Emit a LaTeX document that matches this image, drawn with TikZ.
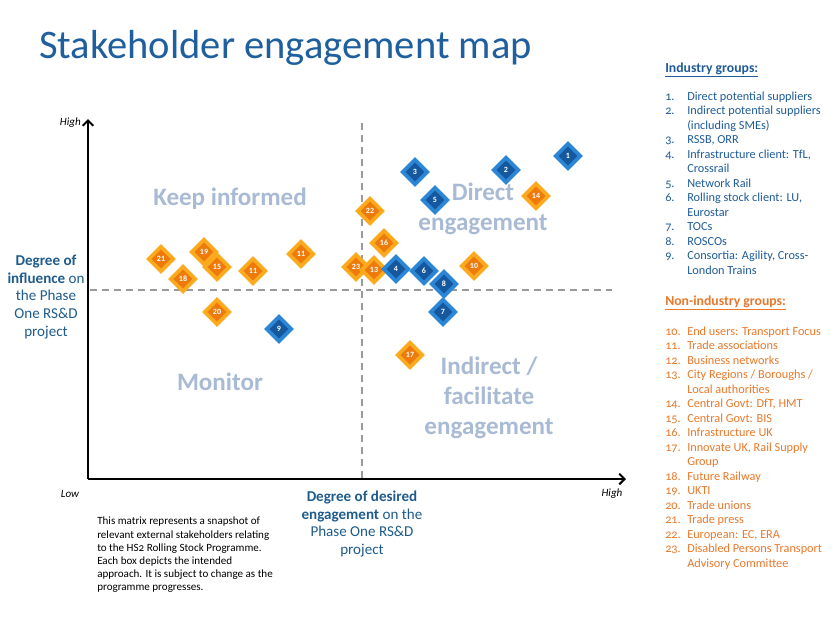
\documentclass[tikz,border=0pt]{standalone}
\usepackage{fontspec}
\setmainfont{Carlito}
\newfontfamily\osf{Carlito}[Numbers=OldStyle]
\usetikzlibrary{shapes.geometric,arrows.meta}
\definecolor{titleblue}{HTML}{1F5F9E}
\definecolor{labblue}{HTML}{1F5C8C}
\definecolor{legblue}{HTML}{1F5C99}
\definecolor{legorange}{HTML}{E8792B}
\definecolor{quad}{HTML}{A9BBD4}
\definecolor{dashgrey}{HTML}{9A9A9A}
\definecolor{bout}{HTML}{2B86D6}
\definecolor{bin}{HTML}{15589E}
\definecolor{oout}{HTML}{FBAA1E}
\definecolor{oin}{HTML}{EE7A0C}
\tikzset{
  dia/.style={diamond, aspect=1, minimum width=19.5pt, minimum height=19.5pt, inner sep=0pt,
    line width=2.8pt, text=white, font=\bfseries\fontsize{6}{6}\selectfont},
  bdia/.style={dia, fill=bin, draw=bout},
  odia/.style={dia, fill=oin, draw=oout},
  quadlab/.style={text=quad, font=\bfseries\fontsize{18.8}{22.5}\selectfont, align=center, inner sep=0pt},
  axlab/.style={text=labblue, font=\fontsize{11.3}{13.4}\selectfont, align=center, inner sep=0pt},
  lowhigh/.style={font=\itshape\fontsize{8.3}{9}\selectfont, inner sep=0pt},
  axisline/.style={line width=1.5pt, -{Straight Barb[length=4pt,width=8pt]}},
  dashline/.style={dashgrey, line width=1.1pt, dash pattern=on 5pt off 4pt},
  legnum/.style={anchor=base west, inner sep=0pt, font=\osf\fontsize{9.2}{10}\selectfont},
  legtxt/.style={anchor=base west, inner sep=0pt, font=\fontsize{9.2}{10}\selectfont},
}
\begin{document}
\begin{tikzpicture}[x=0.75pt,y=-0.75pt]
\useasboundingbox[fill=white] (0,0) rectangle (840,618);
% title
\node[anchor=base west, inner sep=0pt, text=titleblue, font=\fontsize{30.4}{36}\selectfont] (title) at (39,58) {Stakeholder engagement map};
% axes
\coordinate (origin) at (88,479);
\coordinate (ytop) at (88,119);
\coordinate (xend) at (626,479);
\draw[axisline] (origin) -- (ytop);
\draw[axisline] (origin) -- (xend);
% dashed dividers
\coordinate (vtop) at (362,123);
\coordinate (vbot) at (362,479);
\coordinate (hleft) at (90,290);
\coordinate (hright) at (612,290);
\draw[dashline] (vtop) -- (vbot);
\draw[dashline] (hleft) -- (hright);
% low/high
\node[lowhigh, anchor=east] (yhigh) at (81,123) {High};
\node[lowhigh] (xlow) at (70,494) {Low};
\node[lowhigh] (xhigh) at (612,494) {High};
% quadrant labels
\node[quadlab] (q1) at (230,199) {Keep informed};
\node[quadlab] (q2) at (483,209) {Direct\\engagement};
\node[quadlab] (q3) at (220,382) {Monitor};
\node[quadlab] (q4) at (489,398) {Indirect /\\facilitate\\engagement};
% axis labels
\node[axlab] (ylab) at (46,297) {\textbf{Degree of}\\\textbf{influence} on\\the Phase\\One RS\&D\\project};
\node[axlab] (xlab) at (362,524) {\textbf{Degree of desired}\\\textbf{engagement} on the\\Phase One RS\&D\\project};
% note
\node[anchor=north west, inner sep=0pt, align=left, font=\fontsize{8.3}{9.9}\selectfont] (note) at (97,517)
 {This matrix represents a snapshot of\\relevant external stakeholders relating\\to the HS{\osf 2} Rolling Stock Programme.\\Each box depicts the intended\\approach. It is subject to change as the\\programme progresses.};
% diamonds (blue)
\node[bdia] (d1) at (568,156) {1};
\node[bdia] (d2) at (506,170) {2};
\node[bdia] (d3) at (415,172) {3};
\node[bdia] (d5) at (435,200) {5};
\node[bdia] (d9) at (279,329) {9};
\node[bdia] (d7) at (443,312) {7};
% orange
\node[odia] (d14) at (536,196) {14};
\node[odia] (d22) at (370,211) {22};
\node[odia] (d16) at (384,243) {16};
\node[odia] (d10) at (474,266) {10};
\node[odia] (d17) at (410,355) {17};
\node[odia] (d21) at (161,259) {21};
\node[odia] (d18) at (183,279) {18};
\node[odia] (d19) at (204,252) {19};
\node[odia] (d15) at (217,267) {15};
\node[odia] (d11a) at (253,271) {11};
\node[odia] (d11b) at (301,254) {11};
\node[odia] (d20) at (217,312) {20};
\node[odia] (d23) at (356,267) {23};
\node[odia] (d13) at (374,270) {13};
\node[bdia] (d4) at (396,269) {4};
\node[bdia] (d6) at (424,271) {6};
\node[bdia] (d8) at (444,284) {8};
% legend: industry
\node[anchor=base west, inner sep=0pt, text=legblue, font=\bfseries\fontsize{10.3}{11}\selectfont] (ind) at (665,72) {\underline{Industry groups:}};
\begin{scope}[text=legblue]
\foreach \yy/\nn/\tt [count=\i] in {
  100/1./Direct potential suppliers,
  114.5/2./Indirect potential suppliers,
  129/ /(including SMEs),
  143.5/3./{RSSB, ORR},
  158/4./{Infrastructure client: TfL,},
  172.5/ /Crossrail,
  187/5./Network Rail,
  201.5/6./{Rolling stock client: LU,},
  216/ /Eurostar,
  230.5/7./TOCs,
  245/8./ROSCOs,
  259.5/9./{Consortia: Agility, Cross-},
  274/ /London Trains} {
  \node[legnum] (in\i) at (665,\yy) {\nn};
  \node[legtxt] (it\i) at (687,\yy) {\tt};
}
\end{scope}
% legend: non-industry
\node[anchor=base west, inner sep=0pt, text=legorange, font=\bfseries\fontsize{10.3}{11}\selectfont] (nonind) at (665,305) {\underline{Non-industry groups:}};
\begin{scope}[text=legorange]
\foreach \yy/\nn/\tt [count=\i] in {
  335/10./{End users: Transport Focus},
  349.5/11./Trade associations,
  364/12./Business networks,
  378.5/13./{City Regions / Boroughs /},
  393/ /Local authorities,
  407.5/14./{Central Govt: DfT, HMT},
  422/15./{Central Govt: BIS},
  436.5/16./Infrastructure UK,
  451/17./{Innovate UK, Rail Supply},
  465.5/ /Group,
  480/18./Future Railway,
  494.5/19./UKTI,
  509/20./Trade unions,
  523.5/21./Trade press,
  538/22./{European: EC, ERA},
  552.5/23./Disabled Persons Transport,
  567/ /Advisory Committee} {
  \node[legnum] (nn\i) at (665,\yy) {\nn};
  \node[legtxt] (nt\i) at (687,\yy) {\tt};
}
\end{scope}
\end{tikzpicture}
\end{document}
